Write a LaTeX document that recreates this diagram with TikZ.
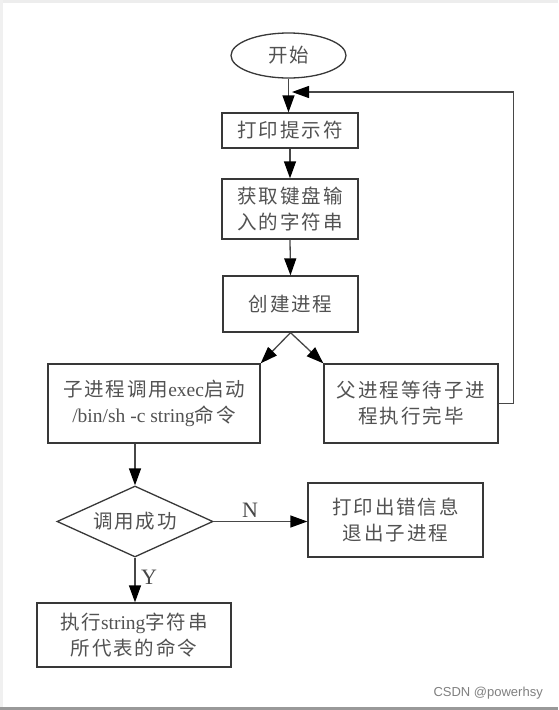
\documentclass[tikz,border=0pt]{standalone}
\usepackage{fontspec}
\setmainfont{Liberation Serif}
\newfontfamily\cjk[LetterSpace=10]{Noto Sans CJK SC}
\newfontfamily\wmfont{Liberation Sans}
\usetikzlibrary{shapes.geometric,arrows.meta,calc}
\newcommand\zh[1]{{\cjk #1}}
\begin{document}
\begin{tikzpicture}[x=1pt,y=-1pt,
  box/.style={draw=black!78,line width=1.3pt,rectangle,inner sep=0pt,align=center,
     text=black!68,font=\fontsize{19.5}{26}\selectfont},
  arr/.style={draw=black!72,line width=1.3pt,-{Triangle[length=17pt,width=12pt,black]}},
  lbl/.style={text=black!72,font=\fontsize{22}{24}\selectfont,inner sep=0pt}]
\useasboundingbox (0,0) rectangle (558,710);
\fill[white] (0,0) rectangle (558,710);
\fill[black!7] (0,0) rectangle (558,2.5);
\fill[black!6] (0,0) rectangle (2.5,710);
\fill[black!40] (0,707) rectangle (558,710);

\node[box,shape=ellipse,minimum width=115pt,minimum height=45pt] (start) at (288.5,55.5) {\zh{开始}};
\node[box,minimum width=136pt,minimum height=35pt] (p1) at (290,130.5) {\zh{打印提示符}};
\node[box,minimum width=136pt,minimum height=60pt] (p2) at (290,209) {\zh{获取键盘输}\\\zh{入的字符串}};
\node[box,minimum width=135pt,minimum height=56pt] (p3) at (290.5,304) {\zh{创建进程}};
\node[box,minimum width=212pt,minimum height=79pt] (child) at (154,403.5)
  {\zh{子进程调用}exec\zh{启动}\\/bin/sh -c string\zh{命令}};
\node[box,minimum width=174pt,minimum height=79pt] (parent) at (411,403.5)
  {\zh{父进程等待子进}\\\zh{程执行完毕}};
\node[box,shape=diamond,aspect=2.2,minimum width=156pt,minimum height=71pt] (dia) at (135,521.5) {\zh{调用成功}};
\node[box,minimum width=175pt,minimum height=74pt] (nbox) at (395.5,520) {\zh{打印出错信息}\\\zh{退出子进程}};
\node[box,minimum width=194pt,minimum height=64pt] (ybox) at (134,635) {\zh{执行}string\zh{字符串}\\\zh{所代表的命令}};

\coordinate (loopend) at (292,92);

\draw[arr] (start.south) -- (start.south |- p1.north);
\draw[arr] (p1.south) -- (p2.north);
\draw[arr] (p2.south) -- (p3.north);
\draw[arr] (p3.south) -- (child.north east);
\draw[arr] (p3.south) -- (parent.north west);
\draw[arr] (parent.east) -- ++(15,0) |- (loopend);
\draw[arr] (child.south -| dia.north) -- (dia.north);
\draw[arr] (dia.east) -- (dia.east -| nbox.west);
\draw[arr] (dia.south) -- (dia.south |- ybox.north);

\node[lbl] (nlab) at (250,510) {N};
\node[lbl] (ylab) at (149,577) {Y};

\node[anchor=east,text=black!50,font=\wmfont\fontsize{13}{15}\selectfont,inner sep=0pt] (wm) at (543,693) {CSDN @powerhsy};
\end{tikzpicture}
\end{document}
